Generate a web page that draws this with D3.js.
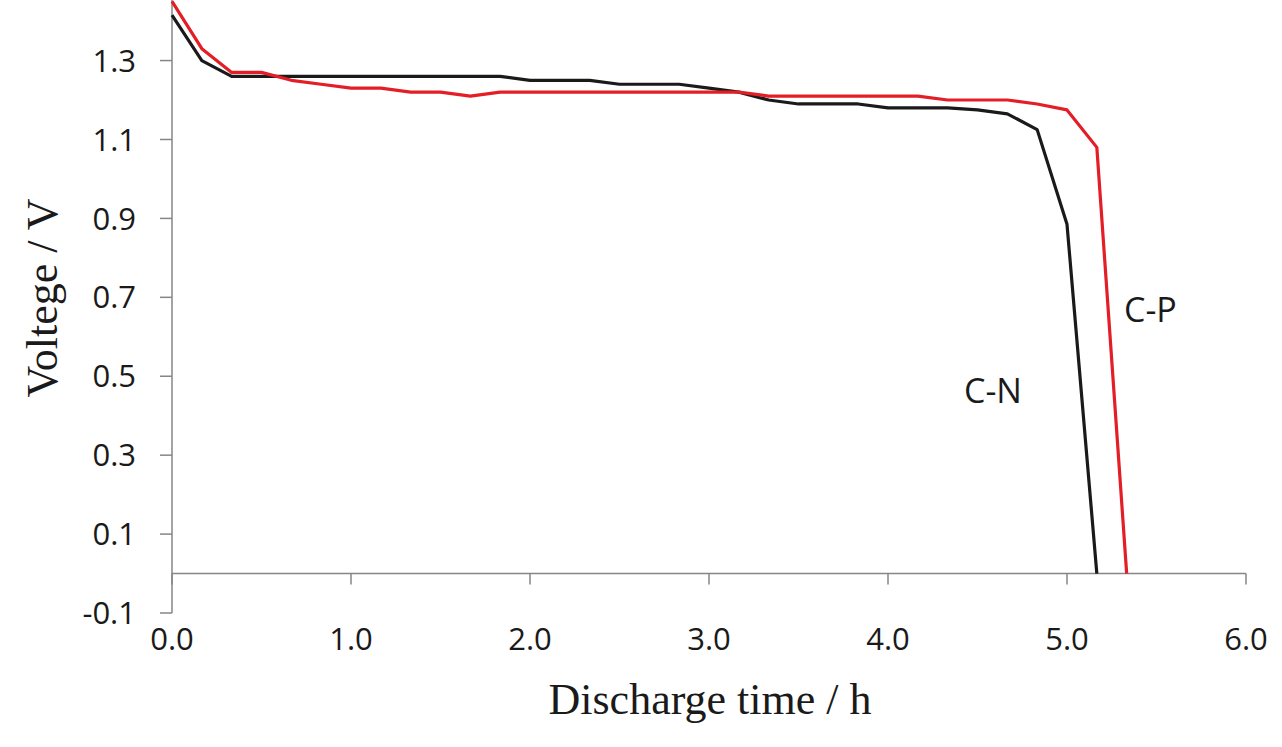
<!DOCTYPE html>
<html>
<head>
<meta charset="utf-8">
<script src="https://cdn.jsdelivr.net/npm/d3@7"></script>
<style>
  body { margin: 0; background: #fff; }
  .tick-label { font-family: "Open Sans", sans-serif; font-size: 31px; fill: #1a1a1a; }
  .axis-title { font-family: "Liberation Serif", serif; font-size: 44px; fill: #1a1a1a; }
  .series-label { font-family: "Open Sans", sans-serif; font-size: 34px; fill: #1a1a1a; }
</style>
</head>
<body>
<div id="chart"></div>
<script>
// discharge time in hours (10 min steps)
const timeCN = [0, 1/6, 2/6, 3/6, 4/6, 5/6, 1, 7/6, 8/6, 9/6, 10/6, 11/6, 2, 13/6, 14/6, 15/6, 16/6, 17/6, 3,
  19/6, 20/6, 21/6, 22/6, 23/6, 4, 25/6, 26/6, 27/6, 28/6, 29/6, 5, 31/6];
const voltCN = [1.415, 1.30, 1.26, 1.26, 1.26, 1.26, 1.26, 1.26, 1.26, 1.26, 1.26, 1.26, 1.25, 1.25, 1.25, 1.24, 1.24, 1.24, 1.23,
  1.22, 1.20, 1.19, 1.19, 1.19, 1.18, 1.18, 1.18, 1.175, 1.165, 1.125, 0.885, 0.0];

const timeCP = [0, 1/6, 2/6, 3/6, 4/6, 5/6, 1, 7/6, 8/6, 9/6, 10/6, 11/6, 2, 13/6, 14/6, 15/6, 16/6, 17/6, 3,
  19/6, 20/6, 21/6, 22/6, 23/6, 4, 25/6, 26/6, 27/6, 28/6, 29/6, 5, 31/6, 32/6];
const voltCP = [1.45, 1.33, 1.27, 1.27, 1.25, 1.24, 1.23, 1.23, 1.22, 1.22, 1.21, 1.22, 1.22, 1.22, 1.22, 1.22, 1.22, 1.22, 1.22,
  1.22, 1.21, 1.21, 1.21, 1.21, 1.21, 1.21, 1.20, 1.20, 1.20, 1.19, 1.175, 1.08, 0.0];

const xTicks = [0, 1, 2, 3, 4, 5, 6];
const yTicks = [-0.1, 0.1, 0.3, 0.5, 0.7, 0.9, 1.1, 1.3];

const width = 1282, height = 747;
const axisColor = '#868686';
const fmt = d => d3.format('.1f')(d).replace('\u2212', '-');

const svg = d3.select('#chart').append('svg')
  .attr('width', width)
  .attr('height', height);

const x = d3.scaleLinear().domain([0, 6]).range([172, 1246]);
const y = d3.scaleLinear().domain([-0.1, 1.5]).range([613, 613 - 1.6 * 394.6]);

// y axis
svg.append('line')
  .attr('x1', x(0)).attr('x2', x(0))
  .attr('y1', y(-0.1)).attr('y2', 0)
  .attr('stroke', axisColor).attr('stroke-width', 1.5);

svg.selectAll('.ytick')
  .data(yTicks)
  .join('line')
  .attr('class', 'ytick')
  .attr('x1', x(0) - 12).attr('x2', x(0))
  .attr('y1', d => y(d)).attr('y2', d => y(d))
  .attr('stroke', axisColor).attr('stroke-width', 1.5);

svg.selectAll('.ylab')
  .data(yTicks)
  .join('text')
  .attr('class', 'tick-label ylab')
  .attr('text-anchor', 'end')
  .attr('x', 136)
  .attr('y', d => y(d))
  .attr('dy', '0.36em')
  .text(fmt);

// x axis at zero
svg.append('line')
  .attr('x1', x(0)).attr('x2', x(6))
  .attr('y1', y(0)).attr('y2', y(0))
  .attr('stroke', axisColor).attr('stroke-width', 1.5);

svg.selectAll('.xtick')
  .data(xTicks)
  .join('line')
  .attr('class', 'xtick')
  .attr('x1', d => x(d)).attr('x2', d => x(d))
  .attr('y1', y(0)).attr('y2', y(0) + 11)
  .attr('stroke', axisColor).attr('stroke-width', 1.5);

svg.selectAll('.xlab')
  .data(xTicks)
  .join('text')
  .attr('class', 'tick-label xlab')
  .attr('text-anchor', 'middle')
  .attr('x', d => x(d))
  .attr('y', 650)
  .text(fmt);

// series
const line = d3.line()
  .x(d => x(d[0]))
  .y(d => y(d[1]));

const series = [
  { name: 'C-N', color: '#1a1a1a', pts: d3.zip(timeCN, voltCN) },
  { name: 'C-P', color: '#e31e26', pts: d3.zip(timeCP, voltCP) }
];

svg.selectAll('.series')
  .data(series)
  .join('path')
  .attr('class', 'series')
  .attr('fill', 'none')
  .attr('stroke', d => d.color)
  .attr('stroke-width', 3.2)
  .attr('stroke-linejoin', 'round')
  .attr('d', d => line(d.pts));

// series labels
svg.append('text').attr('class', 'series-label')
  .attr('x', 1124).attr('y', 322).text('C-P');
svg.append('text').attr('class', 'series-label')
  .attr('x', 964).attr('y', 403).text('C-N');

// axis titles
svg.append('text').attr('class', 'axis-title')
  .attr('text-anchor', 'middle')
  .attr('x', 710).attr('y', 714)
  .text('Discharge time / h');

svg.append('text').attr('class', 'axis-title')
  .attr('text-anchor', 'middle')
  .attr('transform', 'translate(57,298) rotate(-90)')
  .text('Voltege / V');
</script>
</body>
</html>
